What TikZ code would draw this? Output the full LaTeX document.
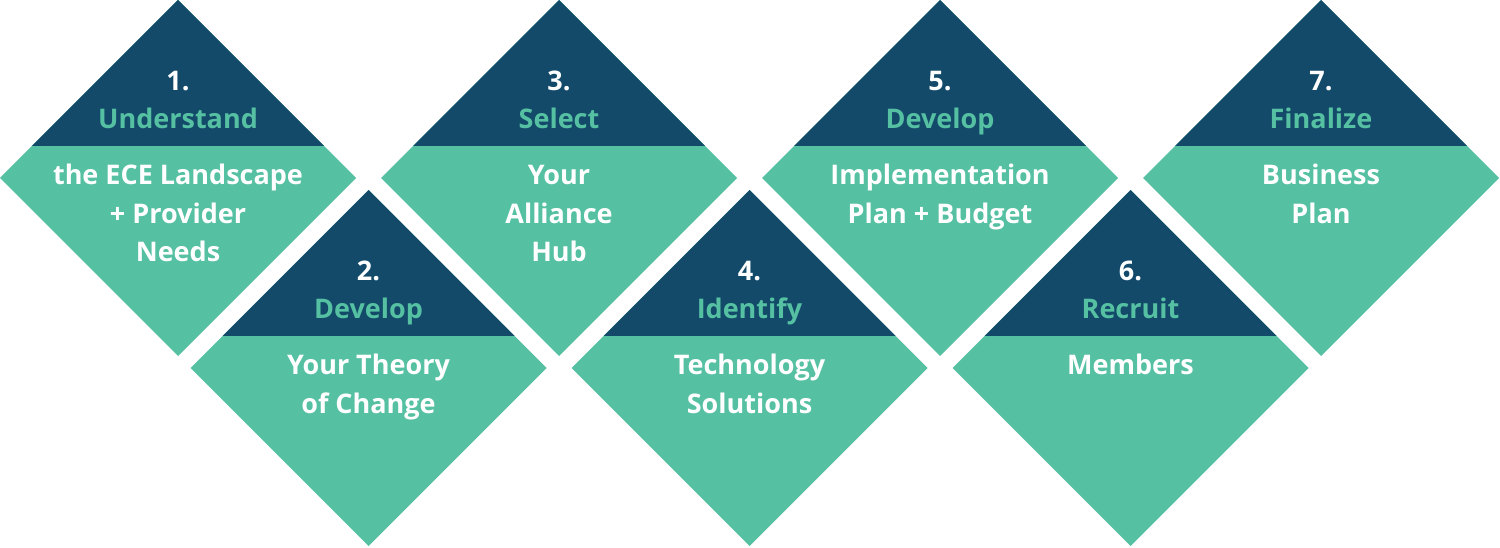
\documentclass[tikz,border=0pt]{standalone}
\usepackage{fontspec}
\setmainfont{Open Sans}
\definecolor{dk}{HTML}{134A6A}
\definecolor{tl}{HTML}{55C0A2}
\tikzset{x=1pt,y=1pt,
 txt/.style={anchor=base,text=white,font=\fontsize{27}{30}\selectfont\bfseries,inner sep=0},
 hd/.style={txt,text=tl}}
\newcommand\dia[6]{% name cx cy num head
 \coordinate (#1) at (#2,#3);
 \fill[tl] (#2,#3+178) -- (#2+178,#3) -- (#2,#3-178) -- (#2-178,#3) -- cycle;
 \fill[dk] (#2,#3+178) -- (#2+146,#3+32) -- (#2-146,#3+32) -- cycle;
 \node[txt] (#1n) at (#2,#3+87) {#4};
 \node[hd] (#1h) at (#2,#3+49) {#5};
 \foreach \l [count=\i] in {#6} {\node[txt] at (#2,#3-7-38.5*\i+38.5) {\l};}
}
\begin{document}
\begin{tikzpicture}
\useasboundingbox (0,0) rectangle (1500,547);
\dia{a}{178}{369}{1.}{Understand}{the ECE Landscape,+ Provider,Needs}
\dia{b}{368.5}{179}{2.}{Develop}{Your Theory,of Change}
\dia{c}{559}{369}{3.}{Select}{Your,Alliance,Hub}
\dia{d}{749.5}{179}{4.}{Identify}{Technology,Solutions}
\dia{e}{940}{369}{5.}{Develop}{Implementation,Plan + Budget}
\dia{f}{1130.5}{179}{6.}{Recruit}{Members}
\dia{g}{1321}{369}{7.}{Finalize}{Business,Plan}
\end{tikzpicture}
\end{document}
